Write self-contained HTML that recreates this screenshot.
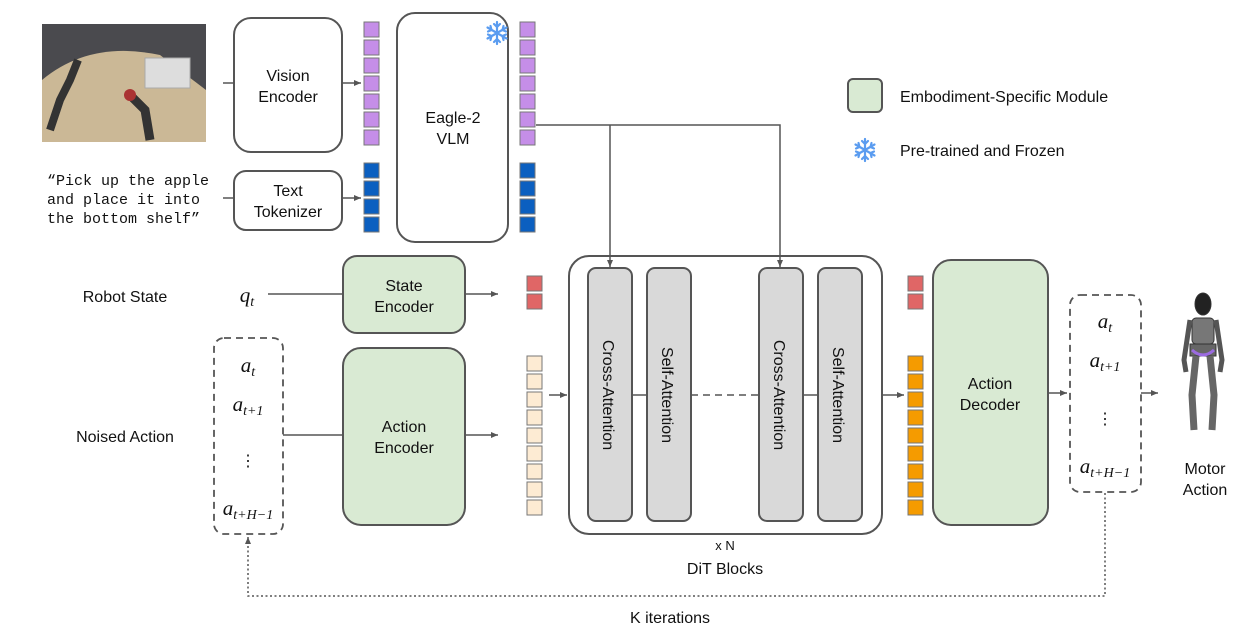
<!DOCTYPE html>
<html><head><meta charset="utf-8"><style>
html,body{margin:0;padding:0;background:#fff}
svg{display:block}
text{font-family:"Liberation Sans",Arial,sans-serif;fill:#111}
.m{font-family:"Liberation Serif",serif;font-style:italic}
.mono{font-family:"Liberation Mono",monospace;font-size:15px}
</style></head><body>
<svg width="1250" height="642" viewBox="0 0 1250 642" xmlns="http://www.w3.org/2000/svg">
<defs>
<marker id="a" markerWidth="8" markerHeight="8" refX="7" refY="4" orient="auto" markerUnits="userSpaceOnUse"><path d="M0,1 L7,4 L0,7 z" fill="#555"/></marker>
<g id="snow" stroke="#5a9cf0" stroke-width="2.2" stroke-linecap="round" fill="none">
<path d="M0,-11V11M-9.5,-5.5L9.5,5.5M-9.5,5.5L9.5,-5.5"/>
<path d="M-3,-9L0,-6L3,-9M-3,9L0,6L3,9M-9,-1.5L-5.5,-3L-6.5,-7M9,1.5L5.5,3L6.5,7M-9,1.5L-5.5,3L-6.5,7M9,-1.5L5.5,-3L6.5,-7"/>
</g>
</defs>
<!-- photo -->
<rect x="42" y="24" width="164" height="118" fill="#4a4a4e"/>
<path d="M42,80 Q90,40 160,55 L206,90 L206,142 L42,142z" fill="#cbb896"/>
<rect x="145" y="58" width="45" height="30" fill="#ddd" stroke="#aaa"/>
<path d="M50,130 L60,100 L70,80 L78,60" stroke="#333" stroke-width="8" fill="none"/>
<path d="M130,95 L145,110 L150,140" stroke="#333" stroke-width="9" fill="none"/>
<circle cx="130" cy="95" r="6" fill="#a33"/>
<!-- boxes -->
<g stroke="#555" stroke-width="2" fill="#fff">
<rect x="234" y="18" width="108" height="134" rx="17"/>
<rect x="234" y="171" width="108" height="59" rx="12"/>
<rect x="397" y="13" width="111" height="229" rx="18"/>
<rect x="569" y="256" width="313" height="278" rx="20"/>
</g>
<!-- lines -->
<g stroke="#555" stroke-width="1.5" fill="none">
<path d="M223,83H234"/><path d="M223,198H234"/>
<path d="M342,83H361" marker-end="url(#a)"/><path d="M342,198H361" marker-end="url(#a)"/>
<path d="M536,125H780V267" marker-end="url(#a)"/><path d="M610,125V267" marker-end="url(#a)"/>
<path d="M268,294H343"/><path d="M283,435H343"/>
<path d="M465,294H498" marker-end="url(#a)"/><path d="M465,435H498" marker-end="url(#a)"/>
<path d="M549,395H567" marker-end="url(#a)"/><path d="M882,395H904" marker-end="url(#a)"/>
<path d="M1048,393H1067" marker-end="url(#a)"/><path d="M1141,393H1158" marker-end="url(#a)"/>
<path d="M632,395H647M803,395H818"/>
<path d="M691,395H759" stroke-dasharray="7,5"/>
<path d="M1105,493V596H248V537" stroke-dasharray="2,2.5" marker-end="url(#a)"/>
</g>
<g stroke="#555" stroke-width="2" fill="#d9d9d9">
<rect x="588" y="268" width="44" height="253" rx="8"/>
<rect x="647" y="268" width="44" height="253" rx="8"/>
<rect x="759" y="268" width="44" height="253" rx="8"/>
<rect x="818" y="268" width="44" height="253" rx="8"/>
</g>
<g stroke="#555" stroke-width="2" fill="#d9ead3">
<rect x="343" y="256" width="122" height="77" rx="14"/>
<rect x="343" y="348" width="122" height="177" rx="18"/>
<rect x="933" y="260" width="115" height="265" rx="18"/>
<rect x="848" y="79" width="34" height="33" rx="5"/>
</g>
<g stroke="#555" stroke-width="1.8" fill="none" stroke-dasharray="7,5">
<rect x="214" y="338" width="69" height="196" rx="10"/>
<rect x="1070" y="295" width="71" height="197" rx="10"/>
</g>
<!-- tokens -->
<g stroke="#777" stroke-width="1">
<g fill="#c58ee8">
<rect x="364" y="22" width="15" height="15"/><rect x="364" y="40" width="15" height="15"/><rect x="364" y="58" width="15" height="15"/><rect x="364" y="76" width="15" height="15"/><rect x="364" y="94" width="15" height="15"/><rect x="364" y="112" width="15" height="15"/><rect x="364" y="130" width="15" height="15"/>
<rect x="520" y="22" width="15" height="15"/><rect x="520" y="40" width="15" height="15"/><rect x="520" y="58" width="15" height="15"/><rect x="520" y="76" width="15" height="15"/><rect x="520" y="94" width="15" height="15"/><rect x="520" y="112" width="15" height="15"/><rect x="520" y="130" width="15" height="15"/>
</g>
<g fill="#0b5fc0">
<rect x="364" y="163" width="15" height="15"/><rect x="364" y="181" width="15" height="15"/><rect x="364" y="199" width="15" height="15"/><rect x="364" y="217" width="15" height="15"/>
<rect x="520" y="163" width="15" height="15"/><rect x="520" y="181" width="15" height="15"/><rect x="520" y="199" width="15" height="15"/><rect x="520" y="217" width="15" height="15"/>
</g>
<g fill="#e06666">
<rect x="527" y="276" width="15" height="15"/><rect x="527" y="294" width="15" height="15"/>
<rect x="908" y="276" width="15" height="15"/><rect x="908" y="294" width="15" height="15"/>
</g>
<g fill="#fdebd3">
<rect x="527" y="356" width="15" height="15"/><rect x="527" y="374" width="15" height="15"/><rect x="527" y="392" width="15" height="15"/><rect x="527" y="410" width="15" height="15"/><rect x="527" y="428" width="15" height="15"/><rect x="527" y="446" width="15" height="15"/><rect x="527" y="464" width="15" height="15"/><rect x="527" y="482" width="15" height="15"/><rect x="527" y="500" width="15" height="15"/>
</g>
<g fill="#f59b00">
<rect x="908" y="356" width="15" height="15"/><rect x="908" y="374" width="15" height="15"/><rect x="908" y="392" width="15" height="15"/><rect x="908" y="410" width="15" height="15"/><rect x="908" y="428" width="15" height="15"/><rect x="908" y="446" width="15" height="15"/><rect x="908" y="464" width="15" height="15"/><rect x="908" y="482" width="15" height="15"/><rect x="908" y="500" width="15" height="15"/>
</g>
</g>
<use href="#snow" x="497" y="33"/>
<use href="#snow" x="865" y="150"/>
<!-- text -->
<g font-size="16" text-anchor="middle">
<text x="288" y="81">Vision</text><text x="288" y="102">Encoder</text>
<text x="288" y="196">Text</text><text x="288" y="217">Tokenizer</text>
<text x="453" y="123">Eagle-2</text><text x="453" y="144">VLM</text>
<text x="404" y="291">State</text><text x="404" y="312">Encoder</text>
<text x="404" y="432">Action</text><text x="404" y="453">Encoder</text>
<text x="990" y="389">Action</text><text x="990" y="410">Decoder</text>
<text x="125" y="302">Robot State</text>
<text x="125" y="442">Noised Action</text>
<text x="725" y="574">DiT Blocks</text>
<text x="670" y="623">K iterations</text>
<text x="1205" y="474">Motor</text><text x="1205" y="495">Action</text>
<text x="725" y="550" font-size="13">x N</text>
</g>
<g font-size="16" text-anchor="middle">
<text transform="translate(603,395) rotate(90)">Cross-Attention</text>
<text transform="translate(662,395) rotate(90)">Self-Attention</text>
<text transform="translate(774,395) rotate(90)">Cross-Attention</text>
<text transform="translate(833,395) rotate(90)">Self-Attention</text>
</g>
<g font-size="16"><text x="900" y="102">Embodiment-Specific Module</text><text x="900" y="156">Pre-trained and Frozen</text></g>
<text x="47" y="185" class="mono">“Pick up the apple</text><text x="47" y="204" class="mono">and place it into</text><text x="47" y="223" class="mono">the bottom shelf”</text>
<g font-size="21" text-anchor="middle">
<text x="247" y="302" class="m">q<tspan font-size="14" dy="4">t</tspan></text>
<text x="248" y="372" class="m">a<tspan font-size="14" dy="4">t</tspan></text>
<text x="248" y="411" class="m">a<tspan font-size="14" dy="4">t+1</tspan></text>
<text x="248" y="466" font-size="16">⋮</text>
<text x="248" y="515" class="m">a<tspan font-size="14" dy="4">t+H−1</tspan></text>
<text x="1105" y="328" class="m">a<tspan font-size="14" dy="4">t</tspan></text>
<text x="1105" y="367" class="m">a<tspan font-size="14" dy="4">t+1</tspan></text>
<text x="1105" y="424" font-size="16">⋮</text>
<text x="1105" y="473" class="m">a<tspan font-size="14" dy="4">t+H−1</tspan></text>
</g>
<!-- robot -->
<g fill="#555" stroke="#333" stroke-width="1">
<ellipse cx="1203" cy="304" rx="8" ry="11" fill="#222"/>
<rect x="1192" y="318" width="22" height="26" rx="4" fill="#777"/>
<path d="M1190,320 L1184,360 L1186,372" stroke="#555" stroke-width="5" fill="none"/>
<path d="M1216,320 L1222,360 L1220,372" stroke="#555" stroke-width="5" fill="none"/>
<rect x="1190" y="344" width="26" height="12" fill="#666"/>
<path d="M1192,350 Q1203,360 1214,350" stroke="#9b6be0" stroke-width="3" fill="none"/>
<path d="M1196,356 L1192,395 L1194,430" stroke="#666" stroke-width="7" fill="none"/>
<path d="M1210,356 L1214,395 L1212,430" stroke="#666" stroke-width="7" fill="none"/>
</g>
</svg>
</body></html>
